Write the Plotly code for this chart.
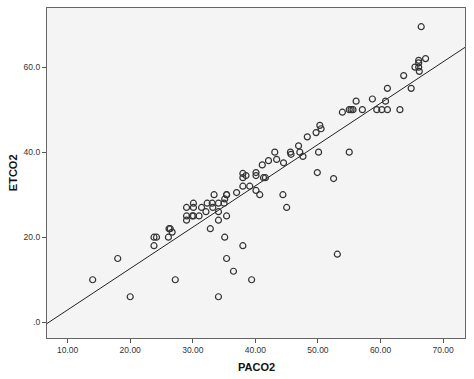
import numpy as np
import plotly.graph_objects as go

paco2 = [14.0, 18.0, 20.0, 23.8, 24.2, 23.8, 26.1, 26.2, 26.4, 26.7, 27.2,
         29.0, 29.0, 29.0, 30.1, 30.1, 29.9, 30.1, 31.0, 31.4, 32.1, 32.3,
         32.8, 33.1, 33.2, 33.4, 34.1, 34.1, 34.1, 34.1, 35.0, 35.1, 35.4,
         35.4, 35.4, 35.1, 35.4, 36.5, 37.0, 38.0, 38.0, 38.5, 38.0, 38.0,
         39.1, 39.4, 40.1, 40.1, 40.1, 40.7, 41.1, 41.3, 41.6, 42.1, 43.1,
         43.4, 44.5, 44.4, 45.0, 45.6, 45.7, 46.9, 47.1, 47.6, 48.3, 49.7,
         50.3, 50.5, 50.1, 49.9, 52.5, 53.1, 53.9, 55.0, 55.0, 55.3, 55.6,
         56.1, 57.1, 58.7, 59.4, 60.2, 60.8, 61.1, 61.1, 63.1, 63.7, 64.9,
         65.5, 66.1, 66.1, 66.1, 66.2, 66.5, 67.2]
etco2 = [10.0, 15.0, 6.0, 20.0, 20.0, 18.0, 20.0, 22.0, 22.0, 21.2, 10.0,
         27.0, 25.0, 24.0, 28.0, 27.0, 25.0, 25.0, 25.0, 27.0, 26.0, 28.0,
         22.0, 28.0, 27.0, 30.0, 28.0, 26.0, 24.0, 6.0, 28.0, 29.0, 30.0,
         30.0, 25.0, 20.0, 15.0, 12.0, 30.5, 35.0, 34.0, 34.5, 32.0, 18.0,
         32.0, 10.0, 35.2, 34.5, 31.0, 30.0, 37.0, 34.0, 34.0, 38.0, 40.0,
         38.3, 37.5, 30.0, 27.0, 40.0, 39.5, 41.5, 40.0, 39.0, 43.6, 44.6,
         46.3, 45.5, 40.0, 35.2, 33.8, 16.0, 49.4, 40.0, 50.0, 50.0, 50.0,
         52.0, 50.0, 52.5, 50.0, 50.0, 52.0, 50.0, 55.0, 50.0, 58.0, 55.0,
         60.0, 60.0, 61.0, 61.6, 59.0, 69.5, 62.0]

# Regression line (SPSS fit line)
fit_slope = 0.972
fit_intercept = -6.8

x_ticks = [10, 20, 30, 40, 50, 60, 70]
y_ticks = [0, 20, 40, 60]
y_tick_text = [".0", "20.0", "40.0", "60.0"]
x_range = [6.7, 73.5]
y_range = [-3.7, 73.9]

fit_x = np.array(x_range)
fit_y = fit_slope * fit_x + fit_intercept

fig = go.Figure()
fig.add_trace(go.Scatter(
    x=fit_x, y=fit_y, mode="lines",
    line=dict(color="#222222", width=1), hoverinfo="skip", showlegend=False))
fig.add_trace(go.Scatter(
    x=paco2, y=etco2, mode="markers",
    marker=dict(symbol="circle-open", size=6, color="#333333", line=dict(width=1.2)),
    showlegend=False))

axis_common = dict(showgrid=False, zeroline=False, showline=True, mirror=True,
                   linecolor="#666666", linewidth=1.3, ticks="outside", ticklen=4,
                   tickcolor="#555555", automargin=False,
                   tickfont=dict(family="Liberation Sans", size=8.5, color="#333333"))

fig.update_xaxes(range=x_range, tickvals=x_ticks, tickformat=".2f", **axis_common)
fig.update_yaxes(range=y_range, tickvals=y_ticks, ticktext=y_tick_text, **axis_common)

title_font = dict(family="Liberation Sans", size=11, color="#111111")
fig.add_annotation(text="<b>PACO2</b>", xref="paper", yref="paper", x=0.5, y=-0.088,
                   showarrow=False, font=title_font, xanchor="center", yanchor="middle")
fig.add_annotation(text="<b>ETCO2</b>", xref="paper", yref="paper", x=-0.081, y=0.5,
                   showarrow=False, font=title_font, textangle=-90,
                   xanchor="center", yanchor="middle")

fig.update_layout(
    width=474, height=379,
    margin=dict(l=47, r=9, t=8, b=41),
    plot_bgcolor="#f4f4f4", paper_bgcolor="white",
)
fig.write_html("out.html", config={"displayModeBar": False},
               post_script="document.body.style.margin='0';document.body.style.overflow='hidden';")
